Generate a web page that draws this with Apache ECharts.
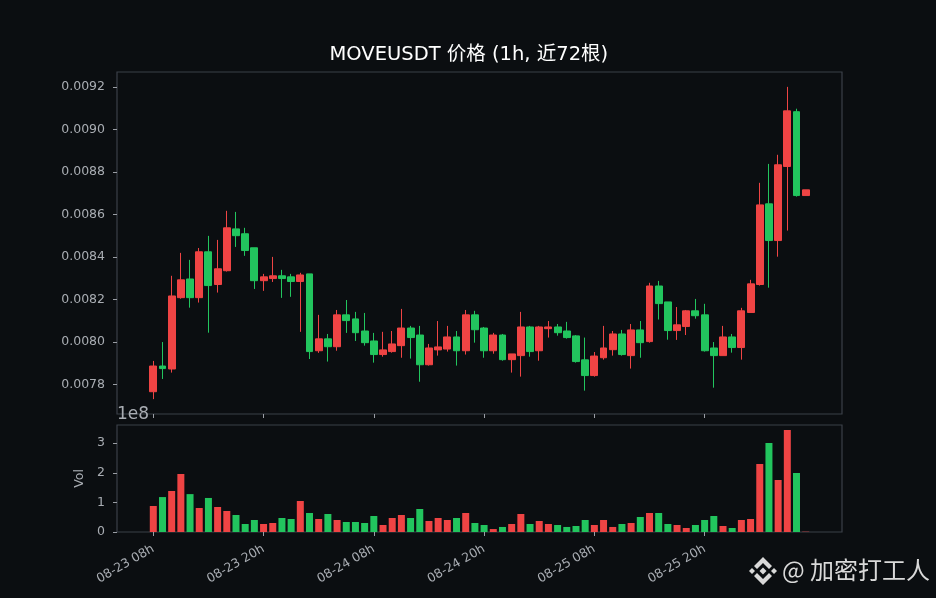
<!DOCTYPE html>
<html>
<head>
    <meta charset="utf-8" />
    <title>MOVEUSDT</title>
    <script src="https://cdn.jsdelivr.net/npm/echarts@6/dist/echarts.min.js"></script>
    <style>
        html, body { margin: 0; padding: 0; background: #0b0e11; }
        #main { width: 936px; height: 598px; }
    </style>
</head>
<body>
<div id="main"></div>
<script type="text/javascript">
    // 1h candles, index 0 = 08-23 08:00
    var opens = [0.007765, 0.007886, 0.007872, 0.008208, 0.008296, 0.008208, 0.008424, 0.008270, 0.008335, 0.008532, 0.008509, 0.008443,
        0.008288, 0.008298, 0.008311, 0.008306, 0.008284, 0.008320, 0.007958, 0.008014, 0.007977, 0.008127, 0.008108, 0.008051,
        0.008004, 0.007940, 0.007954, 0.007982, 0.008065, 0.008032, 0.007892, 0.007962, 0.007966, 0.008023, 0.007958, 0.008127,
        0.008065, 0.007958, 0.008032, 0.007916, 0.007935, 0.008070, 0.007958, 0.008062, 0.008070, 0.008051, 0.008028, 0.007915,
        0.007841, 0.007925, 0.007963, 0.008037, 0.007935, 0.008056, 0.008001, 0.008263, 0.008188, 0.008053, 0.008072, 0.008146,
        0.008127, 0.007971, 0.007935, 0.008023, 0.007973, 0.008138, 0.008270, 0.008650, 0.008477, 0.008826, 0.009084, 0.008689];
    var closes = [0.007886, 0.007874, 0.008216, 0.008292, 0.008208, 0.008424, 0.008265, 0.008344, 0.008537, 0.008500, 0.008430, 0.008288,
        0.008306, 0.008311, 0.008298, 0.008284, 0.008315, 0.007954, 0.008014, 0.007977, 0.008127, 0.008100, 0.008043, 0.007996,
        0.007940, 0.007962, 0.007990, 0.008065, 0.008020, 0.007892, 0.007971, 0.007976, 0.008023, 0.007958, 0.008127, 0.008057,
        0.007958, 0.008032, 0.007916, 0.007943, 0.008070, 0.007954, 0.008070, 0.008070, 0.008043, 0.008020, 0.007907, 0.007841,
        0.007933, 0.007971, 0.008037, 0.007940, 0.008056, 0.007996, 0.008263, 0.008180, 0.008053, 0.008080, 0.008146, 0.008123,
        0.007958, 0.007935, 0.008023, 0.007973, 0.008146, 0.008273, 0.008645, 0.008477, 0.008834, 0.009088, 0.008689, 0.008716];
    var lows = [0.007730, 0.007825, 0.007855, 0.008203, 0.008161, 0.008185, 0.008043, 0.008232, 0.008331, 0.008447, 0.008405, 0.008249,
        0.008240, 0.008282, 0.008207, 0.008212, 0.008047, 0.007919, 0.007948, 0.007907, 0.007958, 0.008042, 0.008004, 0.007982,
        0.007902, 0.007930, 0.007949, 0.007925, 0.007921, 0.007812, 0.007888, 0.007935, 0.007954, 0.007888, 0.007940, 0.007996,
        0.007925, 0.007944, 0.007911, 0.007855, 0.007836, 0.007930, 0.007911, 0.008020, 0.008029, 0.008015, 0.007902, 0.007770,
        0.007836, 0.007916, 0.007935, 0.007935, 0.007874, 0.007925, 0.007996, 0.008105, 0.008010, 0.008009, 0.008032, 0.008109,
        0.007954, 0.007784, 0.007935, 0.007949, 0.007916, 0.008138, 0.008265, 0.008255, 0.008401, 0.008524, 0.008684, 0.008689];
    var highs = [0.007910, 0.007999, 0.008311, 0.008419, 0.008386, 0.008442, 0.008499, 0.008480, 0.008617, 0.008612, 0.008537, 0.008443,
        0.008320, 0.008400, 0.008339, 0.008320, 0.008325, 0.008320, 0.008127, 0.008037, 0.008150, 0.008197, 0.008141, 0.008136,
        0.008042, 0.008047, 0.008051, 0.008155, 0.008075, 0.008075, 0.007990, 0.008098, 0.008075, 0.008051, 0.008150, 0.008146,
        0.008070, 0.008042, 0.008037, 0.007943, 0.008141, 0.008075, 0.008075, 0.008098, 0.008084, 0.008094, 0.008032, 0.008020,
        0.007952, 0.008075, 0.008051, 0.008056, 0.008084, 0.008098, 0.008278, 0.008287, 0.008188, 0.008164, 0.008150, 0.008202,
        0.008179, 0.007999, 0.008075, 0.008037, 0.008160, 0.008292, 0.008749, 0.008838, 0.008881, 0.009201, 0.009098, 0.008716];
    // volume in units of 1e8
    var volumes = [0.878, 1.18, 1.385, 1.96, 1.28, 0.81, 1.15, 0.845, 0.71, 0.574, 0.27, 0.405,
        0.27, 0.304, 0.473, 0.44, 1.047, 0.642, 0.44, 0.608, 0.405, 0.338, 0.338, 0.304,
        0.54, 0.236, 0.473, 0.574, 0.473, 0.777, 0.372, 0.473, 0.405, 0.473, 0.642, 0.304,
        0.236, 0.10, 0.17, 0.27, 0.608, 0.27, 0.372, 0.27, 0.236, 0.17, 0.203, 0.405,
        0.236, 0.405, 0.17, 0.27, 0.304, 0.507, 0.642, 0.642, 0.27, 0.236, 0.135, 0.236,
        0.405, 0.54, 0.203, 0.135, 0.405, 0.44, 2.297, 3.007, 1.757, 3.446, 1.993, 0.01];
    var tickIdx = [0, 12, 24, 36, 48, 60];
    var tickLabels = ['08-23 08h', '08-23 20h', '08-24 08h', '08-24 20h', '08-25 08h', '08-25 20h'];
    var priceTicks = [0.0078, 0.0080, 0.0082, 0.0084, 0.0086, 0.0088, 0.0090, 0.0092];
    var volTicks = [0, 1, 2, 3];

    var red = '#ef4444', green = '#22c55e';
    var txtColor = '#a9adb3', tickColor = '#9a9ea5', frameColor = '#3b4049';
    var font = 'DejaVu Sans';

    var candleData = opens.map(function (o, i) {
        return [i, o, closes[i], lows[i], highs[i]];
    });
    var volData = volumes.map(function (v, i) {
        return { value: [i, v], itemStyle: { color: closes[i] >= opens[i] ? red : green } };
    });

    function xAxisOpt(gi, showLabel) {
        return {
            type: 'value', gridIndex: gi, min: -3.95, max: 74.95,
            axisLine: { show: false, onZero: false },
            splitLine: { show: false },
            axisTick: { show: true, customValues: tickIdx, length: 4, lineStyle: { color: tickColor, width: 1 } },
            axisLabel: {
                show: showLabel, customValues: tickIdx, rotate: 30, margin: 16,
                color: txtColor, fontSize: 12.5, fontFamily: font,
                formatter: function (v) {
                    var k = tickIdx.indexOf(Math.round(v));
                    return k >= 0 ? tickLabels[k] : '';
                }
            }
        };
    }

    var myChart = echarts.init(document.getElementById('main'));
    var option = {
        animation: false,
        backgroundColor: '#0b0e11',
        grid: [
            { left: 117, top: 72, width: 725, height: 342, show: true, borderColor: frameColor, borderWidth: 1.2 },
            { left: 117, top: 425, width: 725, height: 107, show: true, borderColor: frameColor, borderWidth: 1.2 }
        ],
        xAxis: [xAxisOpt(0, false), xAxisOpt(1, true)],
        yAxis: [
            {
                type: 'value', gridIndex: 0, min: 0.00766, max: 0.009271, scale: true,
                axisLine: { show: false, onZero: false }, splitLine: { show: false },
                axisTick: { show: true, customValues: priceTicks, length: 4, lineStyle: { color: tickColor } },
                axisLabel: {
                    customValues: priceTicks, margin: 12, color: txtColor, fontSize: 12.5, fontFamily: font,
                    formatter: function (v) { return v.toFixed(4); }
                }
            },
            {
                type: 'value', gridIndex: 1, min: 0, max: 3.615,
                name: 'Vol', nameLocation: 'middle', nameGap: 25, nameRotate: 90,
                nameTextStyle: { color: txtColor, fontSize: 12.5, fontFamily: font },
                axisLine: { show: false, onZero: false }, splitLine: { show: false },
                axisTick: { show: true, customValues: volTicks, length: 4, lineStyle: { color: tickColor } },
                axisLabel: { customValues: volTicks, margin: 12, color: txtColor, fontSize: 12.5, fontFamily: font }
            }
        ],
        series: [
            {
                type: 'candlestick', xAxisIndex: 0, yAxisIndex: 0,
                encode: { x: 0, y: [1, 2, 3, 4] },
                barWidth: 7.4,
                itemStyle: { color: red, color0: green, borderColor: red, borderColor0: green, borderWidth: 1 },
                data: candleData
            },
            {
                type: 'bar', xAxisIndex: 1, yAxisIndex: 1,
                barWidth: 7,
                data: volData
            }
        ],
        graphic: [
            {
                type: 'text', left: 479.5 - 150, top: 45,
                style: { text: 'MOVEUSDT 价格 (1h, 近72根)', fill: '#ffffff', font: '19.5px "DejaVu Sans", "Noto Sans CJK SC"', width: 300, align: 'center' }
            },
            {
                type: 'text', left: 117, top: 406,
                style: { text: '1e8', fill: txtColor, font: '17px "DejaVu Sans"' }
            },
            {
                type: 'group', left: 749, top: 557,
                children: [
                    { type: 'polygon', shape: { points: [[14, 0], [23, 9], [20, 12], [14, 6], [8, 12], [5, 9]] }, style: { fill: '#d9d9d9' } },
                    { type: 'polygon', shape: { points: [[14, 28], [23, 19], [20, 16], [14, 22], [8, 16], [5, 19]] }, style: { fill: '#d9d9d9' } },
                    { type: 'polygon', shape: { points: [[14, 10.5], [17.5, 14], [14, 17.5], [10.5, 14]] }, style: { fill: '#d9d9d9' } },
                    { type: 'polygon', shape: { points: [[3, 11], [6, 14], [3, 17], [0, 14]] }, style: { fill: '#d9d9d9' } },
                    { type: 'polygon', shape: { points: [[25, 11], [28, 14], [25, 17], [22, 14]] }, style: { fill: '#d9d9d9' } }
                ]
            },
            {
                type: 'text', left: 782, top: 558,
                style: { text: '@ 加密打工人', fill: '#d9d9d9', font: '24px "Noto Sans CJK SC"' }
            }
        ]
    };
    myChart.setOption(option);
</script>
</body>
</html>
